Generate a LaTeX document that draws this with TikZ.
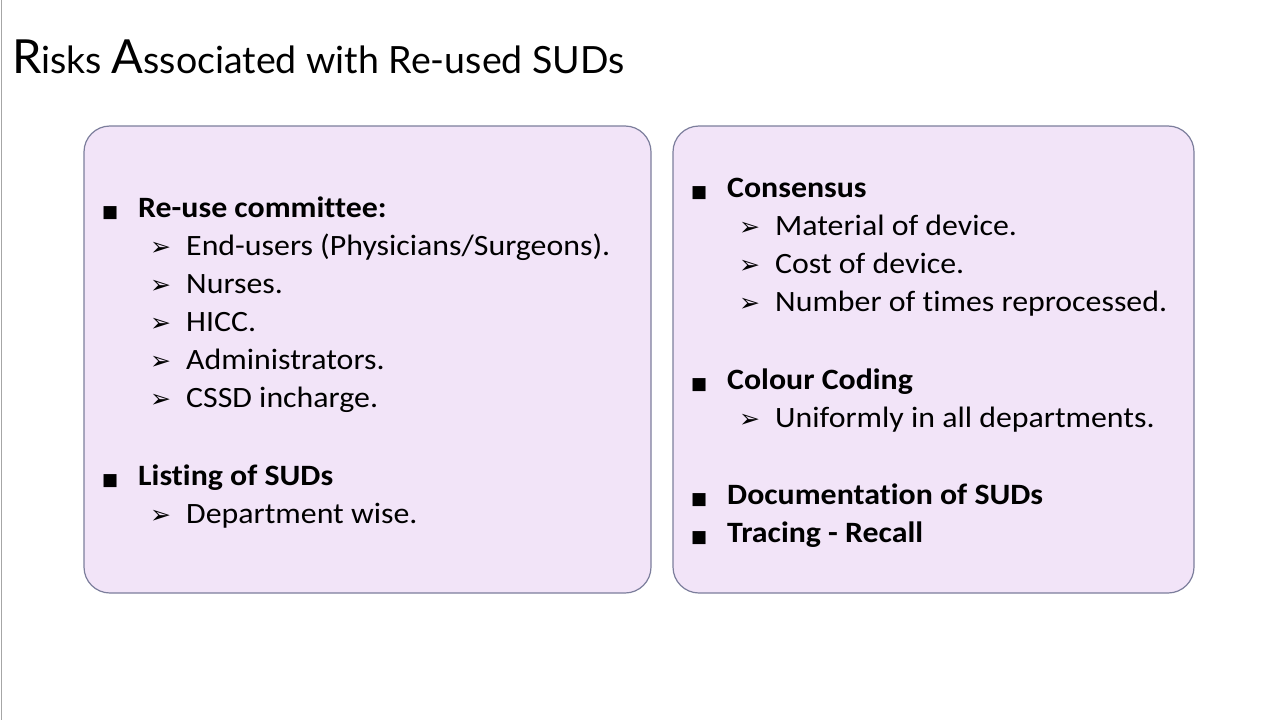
\documentclass[tikz,border=0pt]{standalone}
\usepackage{fontspec}
\setmainfont[FakeStretch=1.08,Ligatures={NoCommon}]{Carlito}
\newfontfamily\dv{DejaVu Sans}
\newfontfamily\ttl{Lato}
\definecolor{boxfill}{HTML}{F2E4F8}
\definecolor{boxline}{HTML}{7C7E9C}
\tikzset{
 panel/.style={draw=boxline,fill=boxfill,line width=1.2pt,rounded corners=26pt},
 lvl/.style={anchor=base west,inner sep=0pt,font=\fontsize{29.5}{31}\selectfont\bfseries},
 sub/.style={anchor=base west,inner sep=0pt,font=\fontsize{29.5}{31}\selectfont},
 bul/.style={anchor=base west,inner sep=0pt,font=\dv\fontsize{17}{19}\selectfont},
 arr/.style={anchor=base west,inner sep=0pt,font=\dv\fontsize{25}{27}\selectfont}
}
\begin{document}
\begin{tikzpicture}[x=1pt,y=-1pt]
\useasboundingbox (0,0) rectangle (1280,720);
\fill[white] (0,0) rectangle (1280,720);
\draw[gray!70,line width=1pt] (1,0)--(1,720);
\node[anchor=base west,inner sep=0pt,font=\ttl\fontsize{37.5}{40}\selectfont] (title) at (12,73) {{\fontsize{47}{48}\selectfont R}isks {\fontsize{47}{48}\selectfont A}ssociated with Re-used SUDs};
\draw[panel] (84,126) rectangle (651,593);
\draw[panel] (673,126) rectangle (1194,593);
% left
\foreach \t/\y [count=\i] in {{Re-use committee:}/217,{Listing of SUDs}/485}{
 \node[bul] (lb\i) at (102,\y) {■};
 \node[lvl] (lt\i) at (138,\y) {\t};}
\foreach \t/\y [count=\i] in {{End-users (Physicians/Surgeons).}/255,{Nurses.}/293,{HICC.}/331,{Administrators.}/369,{CSSD incharge.}/407,{Department wise.}/523}{
 \node[arr] (la\i) at (150,\y) {➢};
 \node[sub] (ls\i) at (186,\y) {\t};}
% right
\foreach \t/\y [count=\i] in {{Consensus}/197,{Colour Coding}/389,{Documentation of SUDs}/504,{Tracing - Recall}/542}{
 \node[bul] (rb\i) at (691,\y) {■};
 \node[lvl] (rt\i) at (727,\y) {\t};}
\foreach \t/\y [count=\i] in {{Material of device.}/235,{Cost of device.}/273,{Number of times reprocessed.}/311,{Uniformly in all departments.}/427}{
 \node[arr] (ra\i) at (739,\y) {➢};
 \node[sub] (rs\i) at (775,\y) {\t};}
\end{tikzpicture}
\end{document}
